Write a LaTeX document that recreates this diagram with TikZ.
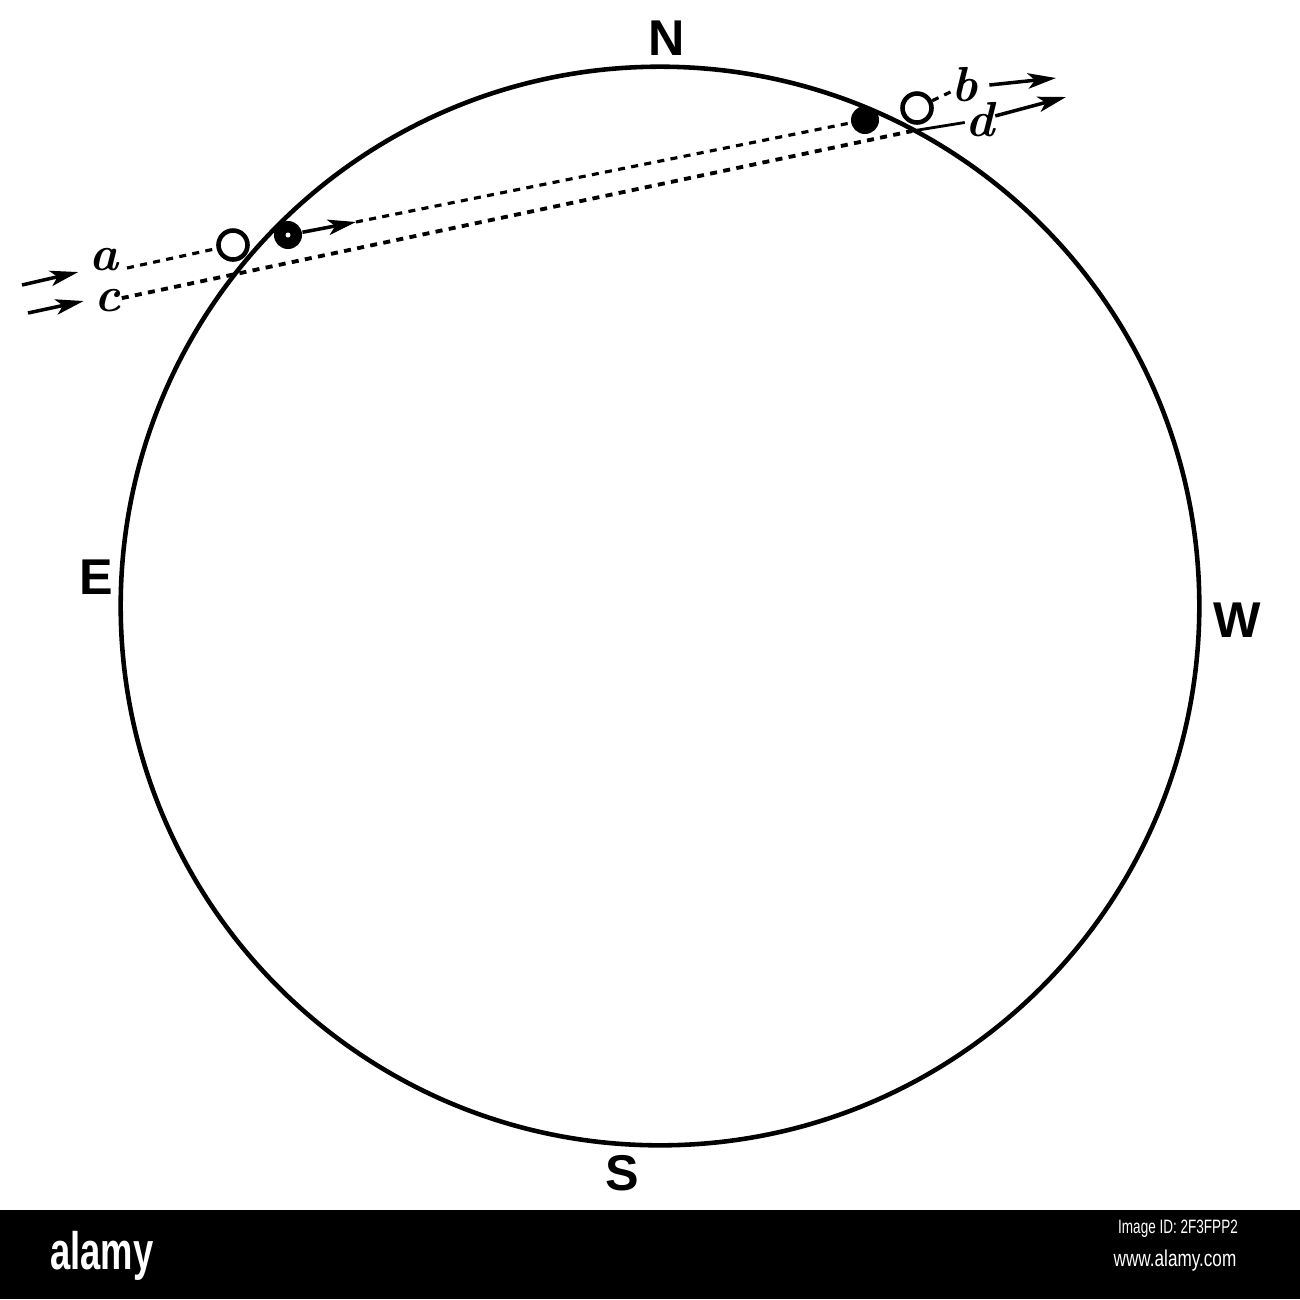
\documentclass[tikz,border=0pt]{standalone}
\usepackage{fontspec}
\usepackage{tikz}
\usetikzlibrary{arrows.meta}
\newfontfamily\cardinalfont{Liberation Sans}

\tikzset{
  sundisc/.style={circle, draw, line width=1.3pt, minimum size=10.78cm, inner sep=0pt},
  cardinal/.style={font=\cardinalfont\bfseries\fontsize{14.3}{16}\selectfont, inner sep=0pt},
  letter/.style={font=\bfseries\itshape\fontsize{14}{16}\selectfont, inner sep=0pt},
  venusout/.style={circle, draw, line width=1.3pt, minimum size=0.29cm, inner sep=0pt},
  venusin/.style={circle, fill, minimum size=0.28cm, inner sep=0pt},
  track/.style={line width=0.9pt, dash pattern=on 2pt off 1.8pt},
  motion/.style={line width=1pt, -{Stealth[length=8pt,width=4.4pt,inset=2pt]}},
  stock/.style={text=white, font=\cardinalfont, inner sep=0pt},
}

\begin{document}
\begin{tikzpicture}[x=0.01cm, y=-0.01cm]
\useasboundingbox (0,0) rectangle (1300,1299);

\node[sundisc] (sun) at (660,606) {};

\node[cardinal] (N) at (667,38) {N};
\node[cardinal] (E) at (96,577) {E};
\node[cardinal] (W) at (1237,620) {W};
\node[cardinal] (S) at (622,1173) {S};

\node[letter] (a) at (104,260) {a};
\node[letter] (c) at (108,301) {c};
\node[letter] (b) at (965,85) {b};
\node[letter] (d) at (980,120) {d};

\node[venusout] (p1) at (233,245) {};
\node[venusin, path picture={\fill[white] (path picture bounding box.center) circle (2.5);}] (m1) at (288,235) {};
\node[venusin] (m2) at (865,120) {};
\node[venusout] (p2) at (917,108) {};

\coordinate (inA) at (22,285);
\coordinate (inC) at (28,313);
\coordinate (aL) at (127,268);
\coordinate (aArr) at (356,222);
\coordinate (cR) at (912,131);
\coordinate (outB) at (1056,78);
\coordinate (outD) at (1066,97);

\draw[motion] (inA) -- ([xshift=-3pt]a.south west);
\draw[motion] (inC) -- ([xshift=-3pt]c.west);
\draw[track] (aL) -- (p1);
\draw[motion] (m1) -- (aArr);
\draw[track] (aArr) -- (m2);
\draw[track] (p2) -- (b);
\draw[motion] ([xshift=3pt]b.east) -- (outB);
\draw[track, line width=1.1pt] (c) -- (cR);
\draw[line width=0.8pt] (cR) -- (d);
\draw[motion] (d) -- (outD);

\fill (0,1210) rectangle (1300,1299);
\node[stock, font=\cardinalfont\bfseries\fontsize{15}{17}\selectfont] (logo) at (102,1256) {\scalebox{0.69}[1]{alamy}};
\node[stock, font=\cardinalfont\fontsize{5.5}{6}\selectfont] (imgid) at (1178,1229) {\scalebox{0.7}[1]{Image ID: 2F3FPP2}};
\node[stock, font=\cardinalfont\fontsize{6.5}{7}\selectfont] (site) at (1175,1261) {\scalebox{0.75}[1]{www.alamy.com}};
\end{tikzpicture}
\end{document}
